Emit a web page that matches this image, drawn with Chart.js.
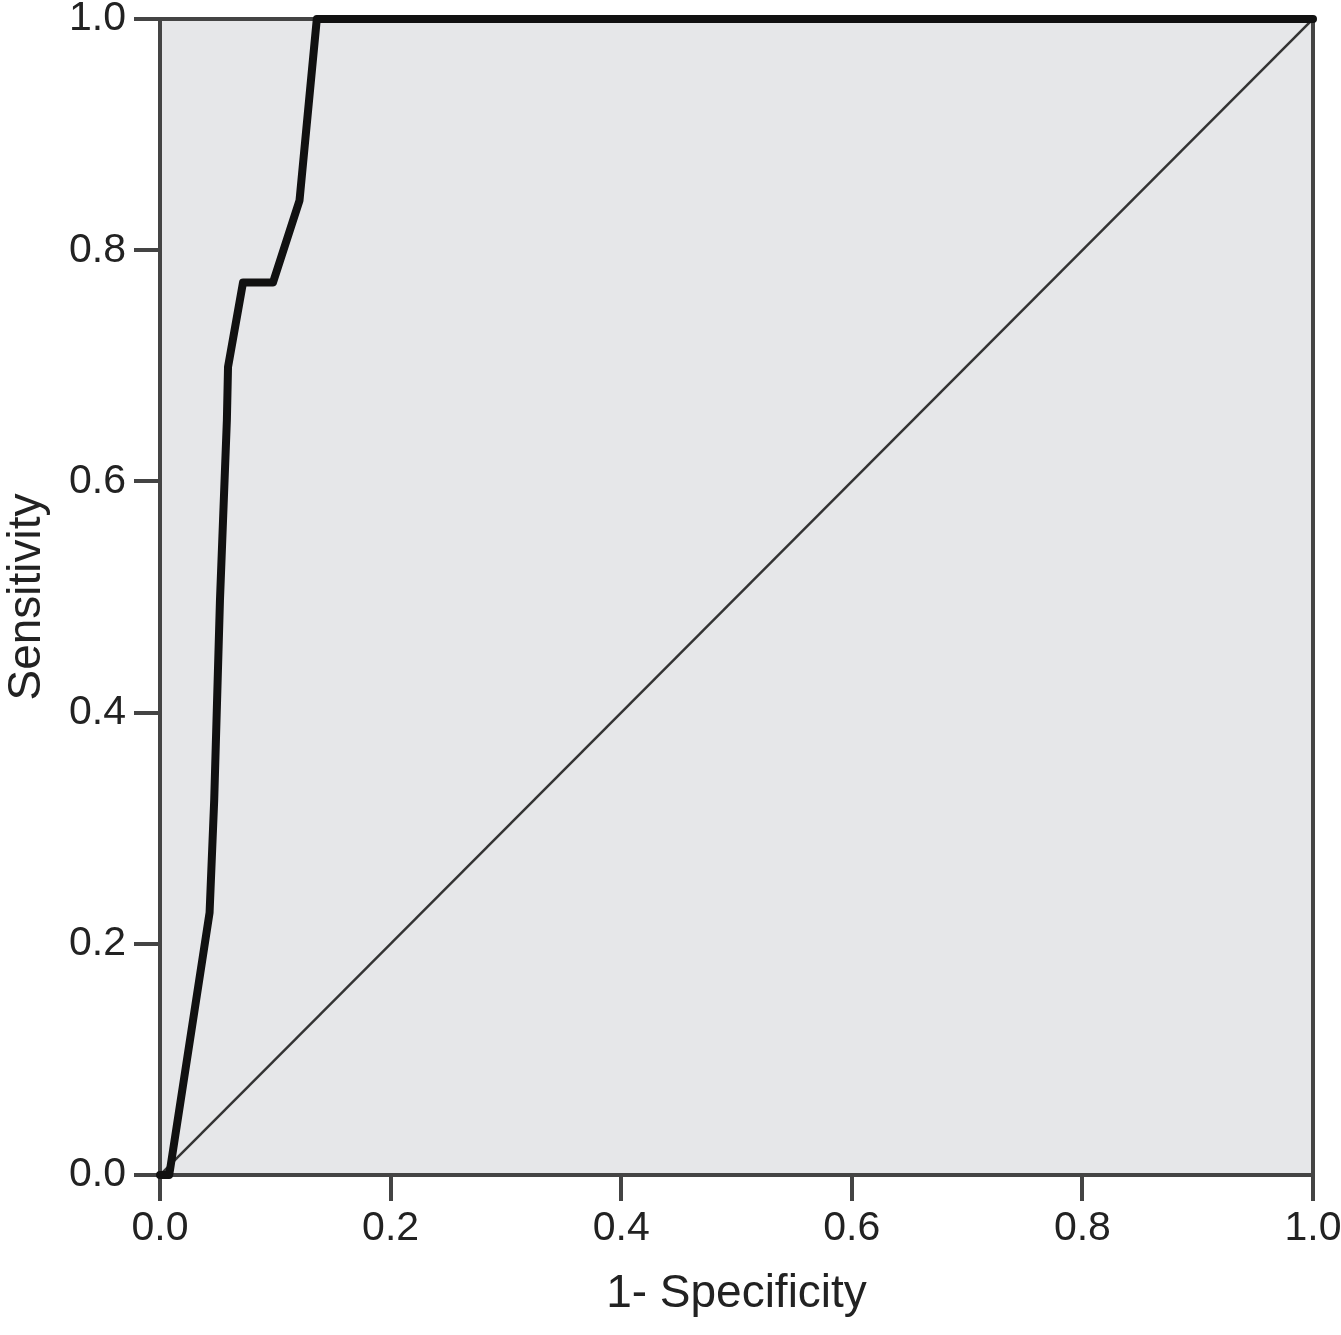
<!DOCTYPE html>
<html>
<head>
<meta charset="utf-8">
<script src="https://cdn.jsdelivr.net/npm/chart.js@4"></script>
<style>
  html, body { margin: 0; padding: 0; background: #fff; }
  #wrap { width: 1341px; height: 1335px; }
</style>
</head>
<body>
<div id="wrap"><canvas id="rocChart"></canvas></div>
<script>
// ROC curve points (1 - specificity, sensitivity)
const rocX = [0, 0.008, 0.043, 0.047, 0.052, 0.058, 0.059, 0.072, 0.098, 0.121, 0.136, 1.0];
const rocY = [0, 0, 0.227, 0.324, 0.497, 0.653, 0.699, 0.772, 0.772, 0.843, 1.0, 1.0];

// reference diagonal
const refX = [0, 1];
const refY = [0, 1];

const tickValues = [0, 0.2, 0.4, 0.6, 0.8, 1.0];

const toPoints = (xs, ys) => xs.map((x, i) => ({ x: x, y: ys[i] }));

// grey plot background + frame around the plot area (under the curves)
const plotFrame = {
    id: 'plotFrame',
    beforeDatasetsDraw(chart) {
        const { ctx, chartArea: a } = chart;
        ctx.save();
        ctx.fillStyle = '#e6e7e9';
        ctx.fillRect(a.left, a.top, a.right - a.left, a.bottom - a.top);
        ctx.strokeStyle = '#444';
        ctx.lineWidth = 4;
        ctx.strokeRect(a.left, a.top, a.right - a.left, a.bottom - a.top);
        ctx.restore();
    }
};

const tickFont = { family: "'Liberation Sans', Arial, sans-serif", size: 41 };
const titleFont = { family: "'Liberation Sans', Arial, sans-serif", size: 46 };

const ctx = document.getElementById('rocChart').getContext('2d');

new Chart(ctx, {
    type: 'scatter',
    data: {
        datasets: [{
            label: 'Reference',
            data: toPoints(refX, refY),
            showLine: true,
            borderColor: '#333',
            borderWidth: 2.5,
            pointRadius: 0,
            order: 2
        }, {
            label: 'ROC',
            data: toPoints(rocX, rocY),
            showLine: true,
            borderColor: '#111',
            borderWidth: 8,
            borderJoinStyle: 'round',
            borderCapStyle: 'round',
            pointRadius: 0,
            clip: false,
            order: 1
        }]
    },
    options: {
        responsive: true,
        maintainAspectRatio: false,
        animation: false,
        layout: { padding: { top: 19, right: 28, left: 0, bottom: 0 } },
        plugins: {
            legend: { display: false },
            tooltip: { enabled: false }
        },
        scales: {
            x: {
                type: 'linear',
                min: 0,
                max: 1,
                afterBuildTicks: s => { s.ticks = tickValues.map(v => ({ value: v })); },
                afterFit: s => { s.height = 160; s.paddingLeft = 0; s.paddingRight = 0; },
                border: { display: false },
                grid: { drawOnChartArea: false, drawTicks: true, tickLength: 26, color: '#444', lineWidth: 4 },
                ticks: { font: tickFont, color: '#222', padding: 3, maxRotation: 0, callback: v => v.toFixed(1) },
                title: { display: true, text: '1- Specificity', font: titleFont, color: '#222', padding: { top: 0, bottom: 13 } }
            },
            y: {
                type: 'linear',
                min: 0,
                max: 1,
                afterBuildTicks: s => { s.ticks = tickValues.map(v => ({ value: v })); },
                afterFit: s => { s.width = 160; s.paddingTop = 0; s.paddingBottom = 0; },
                border: { display: false },
                grid: { drawOnChartArea: false, drawTicks: true, tickLength: 26, color: '#444', lineWidth: 4 },
                ticks: { font: tickFont, color: '#222', padding: 8, callback: v => v.toFixed(1) },
                title: { display: true, text: 'Sensitivity', font: titleFont, color: '#222', padding: { top: 0, bottom: 0 } }
            }
        }
    },
    plugins: [plotFrame]
});
</script>
</body>
</html>
